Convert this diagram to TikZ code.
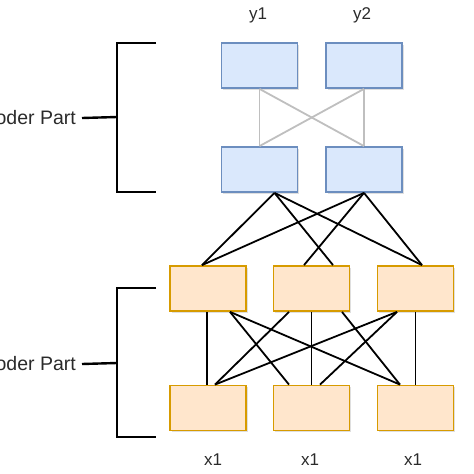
\documentclass[tikz,border=0pt]{standalone}
\usepackage{fontspec}
\setmainfont{Liberation Sans}
\usetikzlibrary{shadows}
\definecolor{decfill}{HTML}{DAE8FC}
\definecolor{decline}{HTML}{6C8EBF}
\definecolor{encfill}{HTML}{FFE6CC}
\definecolor{encline}{HTML}{D79B00}
\definecolor{txtgray}{HTML}{2A2A2A}
\begin{document}
\begin{tikzpicture}[x=1pt,y=-1pt,font=\fontsize{17}{20}\selectfont,
		cell/.style={minimum width=76pt,minimum height=45pt,line width=1.8pt,inner sep=0pt,
			drop shadow={opacity=0.25,shadow xshift=1.5pt,shadow yshift=-1.5pt}},
		dec/.style={cell,draw=decline,fill=decfill},
		enc/.style={cell,draw=encline,fill=encfill},
		lbl/.style={text=txtgray,inner sep=2pt},
		partlbl/.style={lbl,anchor=east,font=\fontsize{19.5}{22}\selectfont},
		wire/.style={line width=1.8pt,black},
		gwire/.style={line width=1.8pt,gray!50},
		brace/.style={line width=2.4pt,black}]
	\useasboundingbox (0,0) rectangle (474,474);
	% decoder part
	\node[dec] (d1) at (259.5,65.5) {};
	\node[dec] (d2) at (364,65.5) {};
	\node[dec] (d3) at (259.5,169.5) {};
	\node[dec] (d4) at (364,169.5) {};
	\node[lbl] (y1) at (258,15) {y1};
	\node[lbl] (y2) at (362,15) {y2};
	% encoder part
	\node[enc] (e1) at (208,288.5) {};
	\node[enc] (e2) at (311.5,288.5) {};
	\node[enc] (e3) at (415.5,288.5) {};
	\node[enc] (e4) at (208,408) {};
	\node[enc] (e5) at (311.5,408) {};
	\node[enc] (e6) at (415.5,408) {};
	\node[lbl] (x1) at (213,460) {x1};
	\node[lbl] (x2) at (310,460) {x1};
	\node[lbl] (x3) at (413,460) {x1};
	% wires
	\draw[gwire] (d1.south) -- (d3.north);
	\draw[gwire] (d2.south) -- (d4.north);
	\draw[gwire] (d1.south) -- (d4.north);
	\draw[gwire] (d2.south) -- (d3.north);
	\draw[wire] ([xshift=15pt]d3.south) -- ([xshift=-6pt]e1.north);
	\draw[wire] ([xshift=15pt]d3.south) -- ([xshift=21.5pt]e2.north);
	\draw[wire] ([xshift=15pt]d3.south) -- ([xshift=6.5pt]e3.north);
	\draw[wire] (d4.south) -- ([xshift=-6pt]e1.north);
	\draw[wire] (d4.south) -- ([xshift=-7.5pt]e2.north);
	\draw[wire] (d4.south) -- ([xshift=6.5pt]e3.north);
	\draw[wire] ([xshift=-1pt]e1.south) -- ([xshift=-1pt]e4.north);
	\draw[wire] ([xshift=22pt]e1.south) -- ([xshift=-22.5pt]e5.north);
	\draw[wire] ([xshift=22pt]e1.south) -- ([xshift=-15.5pt]e6.north);
	\draw[wire] ([xshift=-22.5pt]e2.south) -- ([xshift=7pt]e4.north);
	\draw[wire] (e2.south) -- (e5.north);
	\draw[wire] ([xshift=30.5pt]e2.south) -- ([xshift=-15.5pt]e6.north);
	\draw[wire] ([xshift=-18.5pt]e3.south) -- ([xshift=7pt]e4.north);
	\draw[wire] ([xshift=-18.5pt]e3.south) -- ([xshift=8.5pt]e5.north);
	\draw[wire] (e3.south) -- (e6.north);
	% brackets
	\node[partlbl] (decl) at (78,118) {Decoder Part};
	\node[partlbl] (encl) at (78,364) {Encoder Part};
	\draw[brace] (156,43) -- (117,43) -- (117,192) -- (156,192);
	\draw[brace] (156,288) -- (117,288) -- (117,437) -- (156,437);
	\draw[brace] ([xshift=4pt]decl.east) -- (117,117);
	\draw[brace] ([xshift=4pt]encl.east) -- (117,363);
\end{tikzpicture}
\end{document}
